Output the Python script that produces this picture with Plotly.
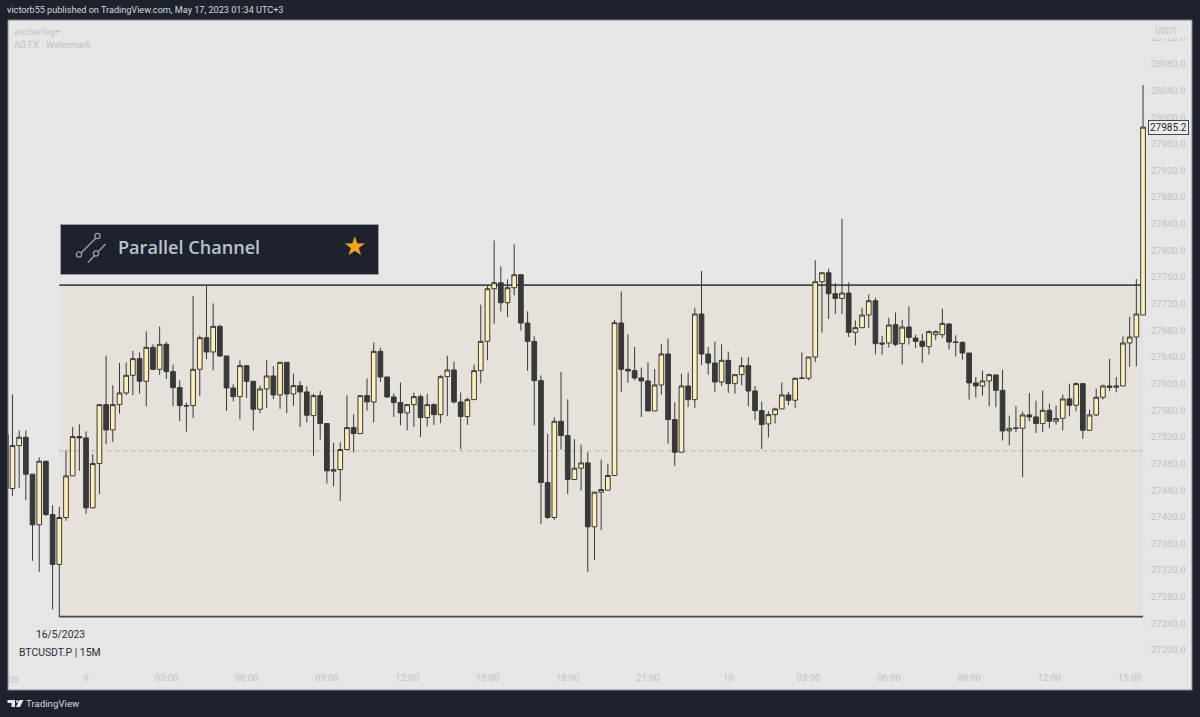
import pandas as pd
import plotly.graph_objects as go

# ---------- chart data (prices) ----------
first_bar = "2023-05-08 21:00"
opens = [
27524,27442.5,27507,27519.5,27464,27388,27483.5,27403.5,27328.5,27399,
27461.5,27520.5,27518.5,27413.5,27480,27568.5,27530.5,27568.5,27586,27612.5,
27637.5,27603.5,27654.5,27621.5,27659,27618,27594,27567,27567,27621.5,
27669,27647.5,27686,27641.5,27593.5,27580.5,27627,27603.5,27561.5,27592,
27611.5,27583,27632,27584.5,27597,27587.5,27552,27582,27540,27468.5,
27471,27501,27534,27525,27582,27572.5,27648.5,27610,27580,27571.5,
27556,27568.5,27580.5,27549,27568.5,27553.5,27610.5,27620.5,27572.5,27550.5,
27576,27619.5,27663.5,27742.5,27751.5,27721.5,27744,27763.5,27691,27663.5,
27604.5,27451.5,27399,27543.5,27522,27456,27473,27481,27385,27437,
27440,27462,27691,27621.5,27619.5,27608.5,27604,27559,27598,27644.5,
27546,27497,27596.5,27576,27704.5,27644.5,27631,27602.5,27635,27600,
27613.5,27627,27589,27559.5,27539.5,27553.5,27562,27583,27575,27608.5,
27608,27640,27753,27766.5,27735,27728,27736,27677,27684,27703,
27724.5,27661,27661,27688.5,27660,27685,27668.5,27663.5,27655.5,27673.5,
27673.5,27689.5,27662.5,27662,27646,27601,27596.5,27604,27613,27590,
27529,27533.5,27533,27553,27550,27540,27560,27543.5,27548,27577,
27567.5,27600,27530,27553,27579.5,27596.5,27594.5,27596.5,27661,27670,27703,
]
highs = [
27530,27584,27530,27530,27464,27489,27483.5,27417.5,27415,27500,
27535,27539,27528.5,27494,27568.5,27642,27597.5,27631,27632,27649,
27647,27678.5,27659,27685.5,27662.5,27628.5,27605,27571.5,27732,27672.5,
27747.5,27720.5,27688.5,27641.5,27599,27635,27627,27603.5,27597,27635,
27626.5,27632,27632,27615,27604,27596,27585,27589,27540,27511,
27512,27582.5,27554,27582,27608,27661.5,27654,27610,27585,27601.5,
27568.5,27586.5,27584,27584.5,27570.5,27612.5,27642,27633,27586.5,27579,
27628.5,27718.5,27746.5,27815,27776,27756.5,27809,27763.5,27708.5,27671,
27612.5,27524.5,27549.5,27617.5,27576.5,27516.5,27508.5,27497,27437,27486,
27479.5,27695.5,27738.5,27674,27655,27624,27632,27622,27659,27667.5,
27572,27615,27616.5,27714,27769,27655,27663,27659,27648,27613.5,
27640,27640,27596.5,27573,27558.5,27564,27601.5,27587.5,27609,27647,
27640,27785,27766.5,27772.5,27751,27847.5,27752,27695,27714,27734,
27729,27672,27699,27707,27696,27716,27673.5,27675,27680,27680,
27712.5,27691,27672.5,27663.5,27646,27610,27619.5,27615,27613.5,27621,
27552,27566,27558,27586,27574.5,27589.5,27570,27567,27583.5,27600,
27602,27601,27561,27592.5,27598.5,27637,27610,27671,27700.5,27757,28048.5,
]
lows = [
27435,27431.5,27443.5,27425,27334,27317.5,27401,27261,27250,27394,
27461.5,27469,27404.5,27413,27434,27509,27512.5,27555,27582.5,27582.5,
27585,27566,27620,27613,27607,27566,27544,27528,27548.5,27581.5,
27636.5,27620,27640,27559,27573.5,27546.5,27578.5,27529.5,27555.5,27563.5,
27576.5,27562,27555.5,27566.5,27535,27541.5,27491.5,27516,27450,27445.5,
27424,27501,27496.5,27525,27559.5,27541.5,27602.5,27579,27550,27537.5,
27530,27535,27520,27536,27538,27540.5,27551.5,27570,27501.5,27538,
27576,27600.5,27635,27690,27708.5,27700,27732.5,27680,27619,27537.5,
27389,27397,27395.5,27501,27434,27455,27439.5,27317.5,27335,27380,
27440,27462,27587.5,27601,27605,27550,27559,27559,27583.5,27510,
27476.5,27497,27565,27563.5,27628,27613.5,27587.5,27596.5,27586,27585,
27597.5,27566,27545,27501.5,27519,27540,27562,27567.5,27563.5,27608,
27605,27632.5,27676.5,27697,27704.5,27704.5,27670,27657.5,27684,27683.5,
27644,27643.5,27654,27656,27628.5,27658.5,27653.5,27631,27643.5,27666,
27668.5,27651,27641,27636,27576,27579.5,27582,27566,27564.5,27514.5,
27507.5,27527,27459.5,27543.5,27526,27527,27533,27538.5,27529.5,27551,
27558.5,27517,27529,27551,27576,27589,27587,27596.5,27625,27626,27703,
]
closes = [
27442.5,27507,27519.5,27464,27388,27483.5,27403.5,27328.5,27399,27461.5,
27520.5,27518.5,27413.5,27480,27568.5,27530.5,27568.5,27586,27612.5,27637.5,
27603.5,27654.5,27621.5,27659,27618,27594,27567,27566.5,27621.5,27669,
27647.5,27686,27641.5,27593.5,27580.5,27627,27603.5,27561.5,27592,27611.5,
27583,27632,27584.5,27597,27587.5,27552.5,27582,27540,27469,27471,
27501,27534,27525,27582,27572.5,27648.5,27610,27580,27571.5,27556,
27568.5,27580.5,27549,27568.5,27553.5,27610.5,27620.5,27572.5,27550.5,27576,
27619.5,27663.5,27742.5,27751.5,27721.5,27744,27763.5,27691,27663.5,27604.5,
27451.5,27399,27543.5,27522,27456,27473,27481,27385,27437,27441,
27462,27691.5,27621.5,27619,27608.5,27604,27559,27598,27644.5,27546,
27497,27596.5,27576,27704.5,27644.5,27631,27602.5,27635,27600,27613.5,
27627,27589,27559.5,27538.5,27553.5,27562,27583,27575,27608,27608,
27640,27753,27766.5,27735,27728,27736,27677,27684,27703,27724.5,
27660,27659.5,27688,27659,27685,27669.5,27663.5,27656,27678,27678,
27690.5,27662.5,27662,27646,27601,27596.5,27604,27613.5,27590,27529,
27533,27533,27553,27550,27540,27560,27543.5,27547.5,27577,27567.5,
27600,27530,27553,27579.5,27596.5,27594.5,27596.5,27661,27670,27704.5,27985.2,
]
price_ticks = [27200,27240,27280,27320,27360,27400,27440,27480,27520,27560,27600,27640,27680,27720,27760,27800,27840,27880,27920,27960,28000,28040,28080,28120]
time_ticks = ["2023-05-09 00:00","2023-05-09 03:00","2023-05-09 06:00","2023-05-09 09:00","2023-05-09 12:00","2023-05-09 15:00","2023-05-09 18:00","2023-05-09 21:00","2023-05-10 00:00","2023-05-10 03:00","2023-05-10 06:00","2023-05-10 09:00","2023-05-10 12:00","2023-05-10 15:00"]
time_labels = ["9","03:00","06:00","09:00","12:00","15:00","18:00","21:00","10","03:00","06:00","09:00","12:00","15:00"]
channel_top, channel_mid, channel_bottom = 27748, 27499, 27250
channel_start, channel_end = "2023-05-08 23:00", "2023-05-10 15:30"
last_price = 27985.2

times = pd.date_range(first_bar, periods=len(closes), freq="15min")

# ---------- page geometry ----------
W, H = 1200, 717
L, R, T, B = 8, 1150, 20, 670
def fx(x): return (x - L) / (R - L)
def fy(y): return (B - y) / (B - T)
DARK, FRAME, GREY = "#1e222d", "#e6e6e6", "#c0c1c9"
UP, DOWN, EDGE = "#fdefb6", "#383838", "#383838"

fig = go.Figure(go.Candlestick(
    x=times, open=opens, high=highs, low=lows, close=closes,
    increasing=dict(fillcolor=UP, line=dict(color=EDGE, width=1)),
    decreasing=dict(fillcolor=DOWN, line=dict(color=EDGE, width=1)),
    whiskerwidth=0, showlegend=False, hoverinfo="skip",
))

shapes = [
    dict(type="rect", xref="paper", yref="paper", x0=fx(8), x1=fx(1192), y0=fy(690), y1=fy(20), layer="below",
         fillcolor=FRAME, line=dict(color="#858994", width=1)),
    dict(type="rect", xref="x", yref="y", x0=channel_start, x1=channel_end, y0=channel_bottom, y1=channel_top, layer="below",
         fillcolor="#e6e2db", line=dict(width=0)),
    dict(type="line", xref="x", yref="y", x0=channel_start, x1=channel_end, y0=channel_top, y1=channel_top, layer="below",
         line=dict(color="#45474c", width=1.8)),
    dict(type="line", xref="x", yref="y", x0=channel_start, x1=channel_end, y0=channel_bottom, y1=channel_bottom, layer="below",
         line=dict(color="#45474c", width=1.8)),
    dict(type="line", xref="x", yref="y", x0=channel_start, x1=channel_end, y0=channel_mid, y1=channel_mid, layer="below",
         line=dict(color="#b4aea6", width=1, dash="4px,4px")),
    # mask that cuts the top price label like the USDT header
    dict(type="rect", xref="paper", yref="paper", x0=fx(1151), x1=fx(1191), y0=fy(38), y1=fy(22), layer="above",
         fillcolor=FRAME, line=dict(width=0)),
    # title panel
    dict(type="rect", xref="paper", yref="paper", x0=fx(60.5), x1=fx(378.5), y0=fy(274.5), y1=fy(224.5), layer="above",
         fillcolor=DARK, line=dict(color="#9a9da5", width=1)),
]
# panel icon
def seg(x0, y0, x1, y1, color="#9a9ea8", w=1.4):
    return dict(type="line", xref="paper", yref="paper", x0=fx(x0), y0=fy(y0), x1=fx(x1), y1=fy(y1), layer="above", line=dict(color=color, width=w))
def dot(cx, cy, r=2.6, color="#9a9ea8"):
    return dict(type="circle", xref="paper", yref="paper", x0=fx(cx-r), x1=fx(cx+r), y0=fy(cy+r), y1=fy(cy-r), layer="above",
                fillcolor=DARK, line=dict(color=color, width=1.3))
shapes += [seg(81, 253, 96, 238), seg(88, 262.5, 105.5, 244), dot(79, 254.5), dot(97.5, 236), dot(96, 253.5)]
# TradingView mark in the footer
LOGO = "#e6e6e6"
shapes += [
    dict(type="path", xref="paper", yref="paper", layer="above", fillcolor=LOGO, line=dict(width=0),
         path="M %f,%f L %f,%f L %f,%f L %f,%f L %f,%f L %f,%f Z" % (
            fx(7.5),fy(700),fx(15),fy(700),fx(15),fy(707),fx(11.5),fy(707),fx(11.5),fy(703),fx(7.5),fy(703))),
    dict(type="path", xref="paper", yref="paper", layer="above", fillcolor=LOGO, line=dict(width=0),
         path="M %f,%f L %f,%f L %f,%f L %f,%f Z" % (fx(19.5),fy(700),fx(23.5),fy(700),fx(20),fy(707),fx(16),fy(707))),
    dict(type="circle", xref="paper", yref="paper", layer="above", fillcolor=LOGO, line=dict(width=0),
         x0=fx(16), x1=fx(18.6), y0=fy(702.8), y1=fy(700.2)),
]

def note(x, y, text, size, color, anchor="left", family="Roboto", weight=None):
    font = dict(family=family, size=size, color=color)
    if weight:
        font["weight"] = weight
    return dict(xref="paper", yref="paper", x=fx(x), y=fy(y), text=text, showarrow=False,
                xanchor=anchor, yanchor="middle", font=font)
annotations = [
    note(5, 10.5, "victorb55 published on TradingView.com, May 17, 2023 01:34 UTC+3", 9.1, "#d6d8de"),
    note(12, 32, "anche/fvg+", 9.1, GREY),
    note(12, 44.5, "AG FX - Watermark", 9.1, GREY),
    note(1153, 31, "USDT", 9, GREY),
    note(116, 247, "Parallel Channel", 18.1, "#b9c2d4", family="Open Sans", weight=600),
    note(354, 246, "★", 26, "#f7a41d", anchor="center", family="DejaVu Sans"),
    note(60, 634, "16/5/2023", 10.3, "#2a2e39", anchor="center"),
    note(17, 652, "BTCUSDT.P | 15M", 10.4, "#2a2e39"),
    note(6, 679, "00", 9.5, GREY),
    note(24, 703.5, "TradingView", 9.7, "#d6d8de"),
    dict(xref="paper", yref="y", x=fx(1168), y=last_price, text=str(last_price), showarrow=False, xanchor="center", yanchor="middle",
         font=dict(family="Roboto", size=10, color="#1e222d"), bgcolor="#eeeeee", bordercolor="#45474c", borderwidth=1, borderpad=1),
]

fig.update_layout(
    width=W, height=H, autosize=False,
    margin=dict(l=L, r=W-R, t=T, b=H-B, pad=0),
    paper_bgcolor=DARK, plot_bgcolor="rgba(0,0,0,0)",
    boxgap=0, boxgroupgap=0.3,
    showlegend=False, shapes=shapes, annotations=annotations,
    xaxis=dict(type="date", range=["2023-05-08 21:05:00", "2023-05-10 15:45:36"], rangeslider=dict(visible=False),
               tickmode="array", tickvals=time_ticks, ticktext=time_labels, showgrid=False, zeroline=False, showline=False,
               ticks="", tickangle=0, tickfont=dict(family="Roboto", size=9.5, color=GREY)),
    yaxis=dict(side="right", range=[27170, 28146], tickmode="array", tickvals=price_ticks,
               ticktext=["%.1f" % v for v in price_ticks], showgrid=False, zeroline=False, showline=False,
               ticks="", tickfont=dict(family="Roboto", size=9.5, color=GREY)),
)
fig.write_html("out.html", config=dict(displayModeBar=False),
               post_script="document.body.style.margin='0';document.body.style.background='#1e222d';document.documentElement.style.overflow='hidden';")
